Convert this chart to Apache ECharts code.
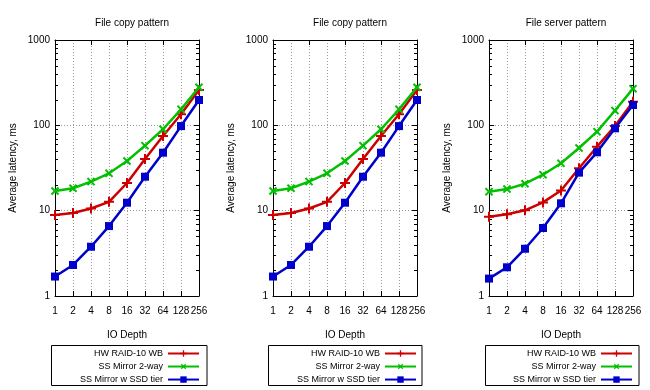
<!DOCTYPE html>
<html>
<head>
<meta charset="utf-8">
<script src="https://cdn.jsdelivr.net/npm/echarts@6/dist/echarts.min.js"></script>
<style>html,body{margin:0;padding:0;background:#fff}#c{width:650px;height:390px}</style>
</head>
<body>
<div id="c"></div>
<script>
var ioDepth = ['1','2','4','8','16','32','64','128','256'];
var titles = ['File copy pattern', 'File copy pattern', 'File server pattern'];
var seriesNames = ['HW RAID-10 WB', 'SS Mirror 2-way', 'SS Mirror w SSD tier'];

var copyA_hw   = [8.9, 9.4, 10.6, 12.7, 21.1, 40.3, 75, 135, 259];
var copyA_ss2  = [17, 18.3, 21.9, 27.4, 38.2, 57.8, 90, 154, 279];
var copyA_ssd  = [1.69, 2.31, 3.78, 6.6, 12.4, 25, 47.8, 98, 198];

var copyB_hw   = [8.9, 9.4, 10.6, 12.7, 21.1, 40.3, 75, 135, 259];
var copyB_ss2  = [17, 18.3, 21.9, 27.4, 38.2, 57.8, 90, 154, 279];
var copyB_ssd  = [1.69, 2.31, 3.78, 6.6, 12.4, 25, 47.8, 98, 198];

var server_hw  = [8.5, 9.1, 10.1, 12.5, 17.2, 31.4, 56.2, 98, 189];
var server_ss2 = [16.7, 17.9, 20.7, 26.4, 35.9, 54.2, 84.3, 149, 269];
var server_ssd = [1.6, 2.17, 3.58, 6.26, 12.2, 27.9, 48.3, 92.3, 173];

var minorVals = [2,3,4,5,6,7,8,9,20,30,40,50,60,70,80,90,200,300,400,500,600,700,800,900];

var panels = [
  [copyA_hw, copyA_ss2, copyA_ssd],
  [copyB_hw, copyB_ss2, copyB_ssd],
  [server_hw, server_ss2, server_ssd]
];

var colors = ['#cc0000', '#00c000', '#0000cc'];
var plusPath = 'path://M3.6,0H5.4V3.6H9V5.4H5.4V9H3.6V5.4H0V3.6H3.6Z';
var symbols = [plusPath, plusPath, 'rect'];
var symRot = [0, 45, 0];
var symSize = [10, 10, 8];

var gridLefts = [55, 273, 489];
var legendRights = [450, 233, 17];
var boxes = [[51.5, 207], [268.5, 422], [485.5, 639]];
var FONT = 'Liberation Sans, Arial, sans-serif';

var option = {
  animation: false,
  backgroundColor: '#fff',
  textStyle: {fontFamily: FONT, color: '#000'},
  title: [], grid: [], xAxis: [], yAxis: [], series: [], legend: [], graphic: []
};

panels.forEach(function (vals, p) {
  option.title.push({
    text: titles[p], left: gridLefts[p] + 72, top: 13, textAlign: 'center',
    textStyle: {fontSize: 10, fontWeight: 'normal', color: '#000', fontFamily: FONT}
  });
  option.grid.push({left: gridLefts[p], top: 40, width: 144, height: 256});
  option.xAxis.push({
    type: 'category', gridIndex: p, data: ioDepth, boundaryGap: false,
    name: 'IO Depth', nameLocation: 'middle', nameGap: 34,
    nameTextStyle: {fontSize: 10, color: '#000', fontFamily: FONT},
    axisLine: {show: true, lineStyle: {color: '#000', width: 1}},
    axisTick: {show: true, inside: true, length: 5, alignWithLabel: true, lineStyle: {color: '#000'}},
    axisLabel: {fontSize: 10, color: '#000', margin: 10, interval: 0, fontFamily: FONT},
    splitLine: {show: true, lineStyle: {color: '#999', type: [1, 2], width: 1}}
  });
  option.xAxis.push({
    type: 'category', gridIndex: p, data: ioDepth, boundaryGap: false, position: 'top',
    axisLine: {show: true, onZero: false, lineStyle: {color: '#000', width: 1}},
    axisTick: {show: true, inside: true, length: 5, lineStyle: {color: '#000'}},
    axisLabel: {show: false}, splitLine: {show: false}
  });
  option.yAxis.push({
    type: 'log', logBase: 10, gridIndex: p, min: 1, max: 1000,
    name: 'Average latency, ms', nameLocation: 'middle', nameGap: 37,
    nameTextStyle: {fontSize: 10, color: '#000', fontFamily: FONT},
    axisLine: {show: true, lineStyle: {color: '#000', width: 1}},
    axisTick: {show: true, inside: true, length: 5, lineStyle: {color: '#000'}},
    axisLabel: {fontSize: 10, color: '#000', margin: 5, fontFamily: FONT,
      formatter: function (v) { return String(Math.round(v)); }},
    splitLine: {show: true, lineStyle: {color: '#999', type: [1, 2], width: 1}}
  });
  option.yAxis.push({
    type: 'log', logBase: 10, gridIndex: p, min: 1, max: 1000, position: 'right',
    axisLine: {show: true, onZero: false, lineStyle: {color: '#000', width: 1}},
    axisTick: {show: true, inside: true, length: 5, lineStyle: {color: '#000'}},
    axisLabel: {show: false}, splitLine: {show: false}
  });
  option.series.push({
    type: 'custom', xAxisIndex: p * 2, yAxisIndex: p * 2, silent: true,
    data: minorVals.map(function (v) { return [0, v]; }),
    renderItem: function (params, api) {
      var cs = params.coordSys;
      var y = api.coord([0, api.value(1)])[1];
      y = Math.round(y) + 0.5;
      return {
        type: 'group', children: [
          {type: 'line', shape: {x1: cs.x, y1: y, x2: cs.x + 3, y2: y}, style: {stroke: '#000', lineWidth: 1}},
          {type: 'line', shape: {x1: cs.x + cs.width - 3, y1: y, x2: cs.x + cs.width, y2: y}, style: {stroke: '#000', lineWidth: 1}}
        ]
      };
    }
  });
  vals.forEach(function (arr, s) {
    option.series.push({
      type: 'line', name: seriesNames[s], xAxisIndex: p * 2, yAxisIndex: p * 2,
      data: arr, symbol: symbols[s], symbolSize: symSize[s], symbolRotate: symRot[s],
      showAllSymbol: true, z: 3 + s,
      lineStyle: {color: colors[s], width: 2.5},
      itemStyle: {color: colors[s]}
    });
  });
  option.legend.push({
    data: seriesNames, orient: 'vertical', align: 'right', right: legendRights[p], top: 349,
    padding: 0, itemGap: 4, itemWidth: 31, itemHeight: 8, selectedMode: false,
    textStyle: {fontSize: 9, color: '#000', fontFamily: FONT}
  });
  option.graphic.push({
    type: 'rect', shape: {x: boxes[p][0], y: 345.5, width: boxes[p][1] - boxes[p][0], height: 40},
    style: {fill: 'none', stroke: '#000', lineWidth: 1}, silent: true
  });
});

var chart = echarts.init(document.getElementById('c'), null, {renderer: 'canvas'});
chart.setOption(option);
</script>
</body>
</html>
